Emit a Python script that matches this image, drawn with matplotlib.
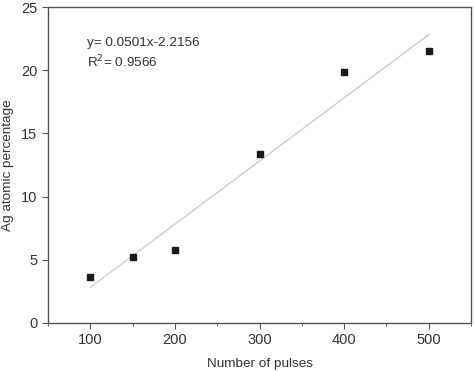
import matplotlib
matplotlib.use("Agg")
import matplotlib.pyplot as plt
from matplotlib.ticker import MultipleLocator

plt.rcParams['font.family'] = ['Liberation Sans', 'DejaVu Sans']

# data
pulses = [100, 150, 200, 300, 400, 500]
ag_pct = [3.6, 5.17, 5.8, 13.4, 19.85, 21.52]
slope = 0.0501
intercept = -2.2156
fit_x = [100, 500]

txt = '#333333'
fig = plt.figure(figsize=(4.74, 3.72), dpi=100)
ax = fig.add_axes([0.101, 0.1325, 0.893, 0.848])

fit_y = [slope * x + intercept for x in fit_x]
ax.plot(fit_x, fit_y, color='#c8c8c8', linewidth=0.9)
ax.plot(pulses, ag_pct, 's', color='#1a1a1a', markersize=4.5)

ax.set_xlim(50, 550)
ax.set_ylim(0, 25)
ax.xaxis.set_major_locator(MultipleLocator(100))
ax.xaxis.set_minor_locator(MultipleLocator(50))
ax.yaxis.set_major_locator(MultipleLocator(5))
ax.tick_params(which='both', direction='out', colors='#555555', labelcolor=txt, labelsize=10.5)
ax.tick_params(which='major', length=4)
ax.tick_params(which='minor', length=2.5)
for s in ax.spines.values():
    s.set_color('#555555')
    s.set_linewidth(1.0)

ax.set_xlabel('Number of pulses', color=txt, fontsize=9.7, labelpad=8)
ax.set_ylabel('Ag atomic percentage', color=txt, fontsize=9.7, labelpad=5)

ax.text(0.092, 0.886, 'y= 0.0501x-2.2156', transform=ax.transAxes, color=txt, fontsize=9.7, va='center')
ax.text(0.092, 0.826, 'R$^2$= 0.9566', transform=ax.transAxes, color=txt, fontsize=9.7, va='center')

fig.savefig('out.png', dpi=100)
